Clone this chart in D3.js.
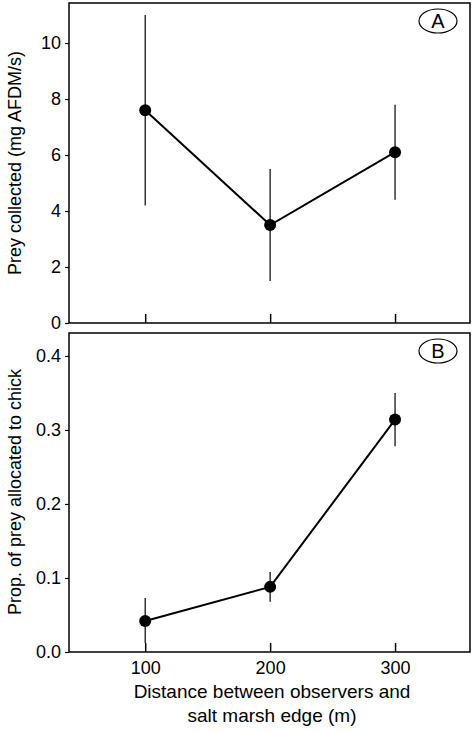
<!DOCTYPE html>
<html><head><meta charset="utf-8">
<script src="https://cdn.jsdelivr.net/npm/d3@7"></script>
<style>body{margin:0;background:#fff}text{font-family:"Liberation Sans",Arial,sans-serif}</style>
</head><body><div id="chart"></div>
<script>
const width = 474, height = 733;
const distances = [100, 200, 300];
const preyMean = [7.6, 3.5, 6.1];
const preyLow = [4.2, 1.5, 4.4];
const preyHigh = [11.0, 5.5, 7.8];
const propMean = [0.042, 0.088, 0.314];
const propLow = [0.012, 0.068, 0.278];
const propHigh = [0.073, 0.108, 0.350];
const preyTicks = [0, 2, 4, 6, 8, 10];
const propTicks = [0, 0.1, 0.2, 0.3, 0.4];

const svg = d3.select('#chart').append('svg').attr('width', width).attr('height', height);
const x = d3.scaleLinear().domain([39, 360]).range([69, 470]);

function panel(top, bottom, domain, ticks, fmt, mean, low, high, letter, showX) {
  const y = d3.scaleLinear().domain(domain).range([bottom, top]);
  const g = svg.append('g');
  g.append('rect').attr('x', 69).attr('y', top).attr('width', 401).attr('height', bottom - top)
    .attr('fill', 'none').attr('stroke', '#000').attr('stroke-width', 1.5);
  g.append('g').attr('transform', `translate(69,0)`)
    .call(d3.axisLeft(y).tickValues(ticks).tickFormat(fmt).tickSize(4).tickPadding(4))
    .call(a => a.select('.domain').remove())
    .call(a => a.selectAll('line').attr('stroke-width', 1.2))
    .call(a => a.selectAll('text').attr('font-size', 18).attr('fill', '#000'));
  g.append('g').attr('transform', `translate(0,${bottom})`)
    .call(d3.axisBottom(x).tickValues(distances).tickSize(-9).tickPadding(showX ? 9 : 0).tickFormat(showX ? d3.format('d') : ''))
    .call(a => a.select('.domain').remove())
    .call(a => a.selectAll('line').attr('stroke-width', 1.5))
    .call(a => a.selectAll('text').attr('font-size', 18).attr('fill', '#000'));
  g.selectAll('.err').data(distances).enter().append('line')
    .attr('x1', d => x(d)).attr('x2', d => x(d))
    .attr('y1', (d, i) => y(low[i])).attr('y2', (d, i) => y(high[i]))
    .attr('stroke', '#000').attr('stroke-width', 1.2);
  g.append('path').datum(distances)
    .attr('d', d3.line().x(d => x(d)).y((d, i) => y(mean[i])))
    .attr('fill', 'none').attr('stroke', '#000').attr('stroke-width', 2);
  g.selectAll('.pt').data(distances).enter().append('circle')
    .attr('cx', d => x(d)).attr('cy', (d, i) => y(mean[i])).attr('r', 6).attr('fill', '#000');
  g.append('ellipse').attr('cx', 438).attr('cy', top + 18).attr('rx', 19).attr('ry', 12)
    .attr('fill', 'none').attr('stroke', '#000').attr('stroke-width', 1.2);
  g.append('text').attr('x', 438).attr('y', top + 25).attr('text-anchor', 'middle')
    .attr('font-size', 20).text(letter);
  return y;
}

panel(3, 323, [0, 11.43], preyTicks, d3.format('d'), preyMean, preyLow, preyHigh, 'A', false);
panel(333, 652, [0, 0.431], propTicks, d3.format('.1f'), propMean, propLow, propHigh, 'B', true);

svg.append('text').attr('transform', 'translate(21,163) rotate(-90)').attr('text-anchor', 'middle')
  .attr('font-size', 18).text('Prey collected (mg AFDM/s)');
svg.append('text').attr('transform', 'translate(21,492) rotate(-90)').attr('text-anchor', 'middle')
  .attr('font-size', 18).text('Prop. of prey allocated to chick');
svg.append('text').attr('x', 272).attr('y', 698).attr('text-anchor', 'middle')
  .attr('font-size', 19).text('Distance between observers and');
svg.append('text').attr('x', 272).attr('y', 722).attr('text-anchor', 'middle')
  .attr('font-size', 19).text('salt marsh edge (m)');
</script></body></html>
